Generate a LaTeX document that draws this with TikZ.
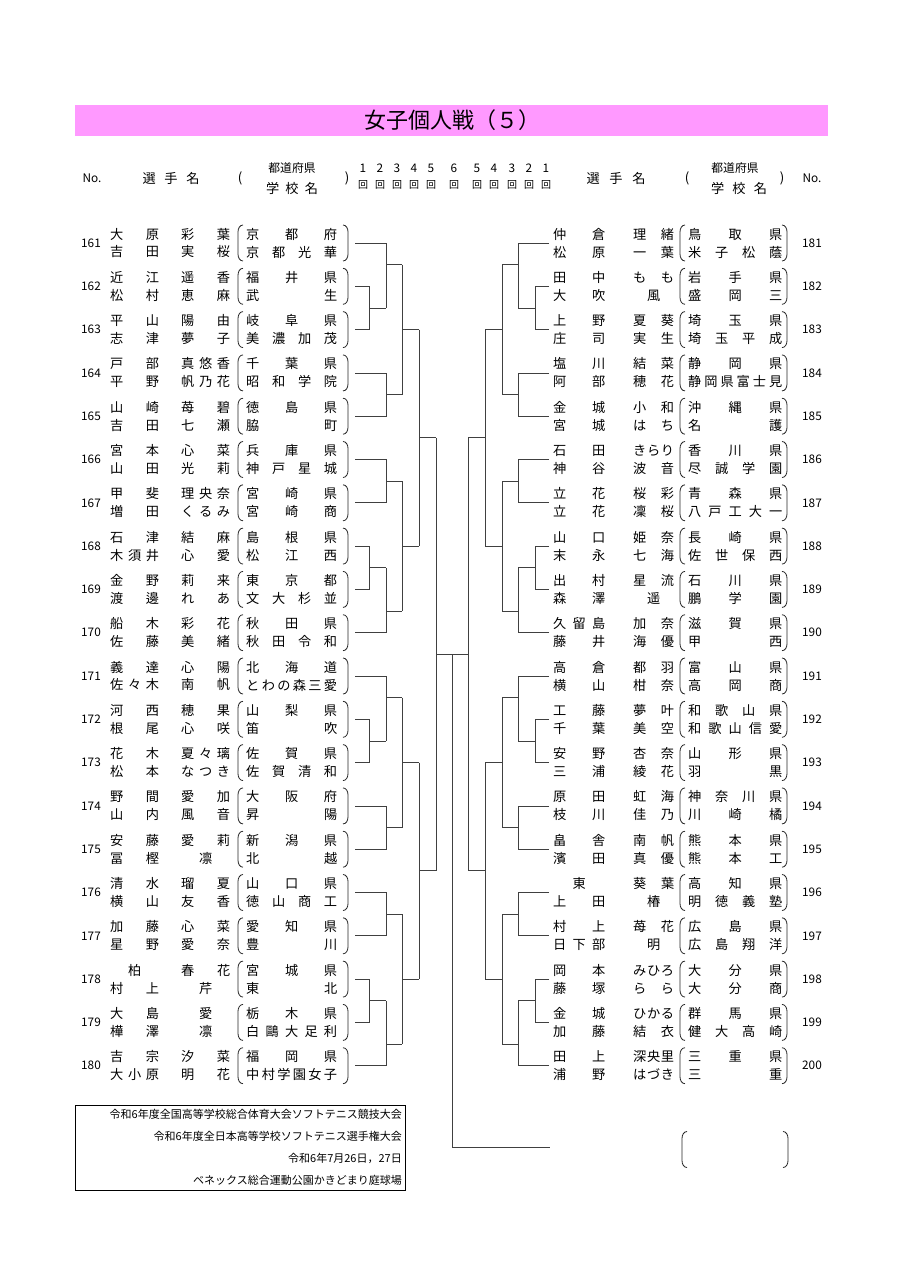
\documentclass[tikz,border=0pt]{standalone}
\usepackage{fontspec}
\setmainfont{Noto Sans CJK JP}
\usetikzlibrary{positioning}
% spread the characters of a text over a fixed width
\def\spreadA#1{\ifx#1\relax\else#1\expandafter\spreadB\fi}
\def\spreadB#1{\ifx#1\relax\else\hfil#1\expandafter\spreadB\fi}
\newcommand\spr[2]{\hbox to #1{\expandafter\spreadA#2\relax}}
\def\Y#1{{243+43.3*(#1)}}
\tikzset{
  % Specifications for style of nodes:
  txt/.style = {inner sep=0pt, font=\fontsize{13.2}{15}\selectfont},
  small/.style = {inner sep=0pt, font=\fontsize{11.8}{13}\selectfont},
  bline/.style = {draw=black!75, line width=0.8pt},
  paren/.style = {draw=black!85, line width=0.8pt},
}
\newcommand\lpar[2]{\draw[paren] (#1+5,#2-18) to[out=180,in=90] (#1,#2-11) -- (#1,#2+11) to[out=-90,in=180] (#1+5,#2+18);}
\newcommand\rpar[2]{\draw[paren] (#1-5,#2-18) to[out=0,in=90] (#1,#2-11) -- (#1,#2+11) to[out=-90,in=0] (#1-5,#2+18);}
\newcommand\halfbracket{%
  \foreach \b in {0,10}{
    \draw[bline] (-97,\Y{\b}) -- (-66,\Y{\b});
    \draw[bline] (-97,\Y{\b+1}) -| (-83,\Y{\b+2}) -- (-97,\Y{\b+2});
    \draw[bline] (-83,\Y{\b+1.5}) -- (-66,\Y{\b+1.5});
    \draw[bline] (-66,\Y{\b}) -- (-66,\Y{\b+1.5});
    \draw[bline] (-66,\Y{\b+.5}) -- (-50,\Y{\b+.5});
    \draw[bline] (-97,\Y{\b+3}) -| (-66,\Y{\b+4}) -- (-97,\Y{\b+4});
    \draw[bline] (-66,\Y{\b+3.5}) -- (-50,\Y{\b+3.5});
    \draw[bline] (-50,\Y{\b+.5}) -- (-50,\Y{\b+3.5});
    \draw[bline] (-50,\Y{\b+2}) -- (-33,\Y{\b+2});
    \draw[bline] (-97,\Y{\b+5}) -| (-66,\Y{\b+6}) -- (-97,\Y{\b+6});
    \draw[bline] (-66,\Y{\b+5.5}) -- (-50,\Y{\b+5.5});
    \draw[bline] (-97,\Y{\b+7}) -| (-83,\Y{\b+8}) -- (-97,\Y{\b+8});
    \draw[bline] (-83,\Y{\b+7.5}) -- (-66,\Y{\b+7.5});
    \draw[bline] (-97,\Y{\b+9}) -- (-66,\Y{\b+9}) -- (-66,\Y{\b+7.5});
    \draw[bline] (-66,\Y{\b+8.5}) -- (-50,\Y{\b+8.5});
    \draw[bline] (-50,\Y{\b+5.5}) -- (-50,\Y{\b+8.5});
    \draw[bline] (-50,\Y{\b+7}) -- (-33,\Y{\b+7});
    \draw[bline] (-33,\Y{\b+2}) -- (-33,\Y{\b+7});
    \draw[bline] (-33,\Y{\b+4.5}) -- (-16,\Y{\b+4.5});
  }
  \draw[bline] (-16,\Y{4.5}) -- (-16,\Y{14.5});
  \draw[bline] (-16,\Y{9.5}) -- (0,\Y{9.5});
}

\begin{document}
\begin{tikzpicture}[x=1pt,y=-1pt]
  \useasboundingbox[fill=white] (0,0) rectangle (905,1280);
  % Title bar
  \fill[fill={rgb,255:red,255;green,153;blue,255}] (75,105) rectangle (828,136);
  \node[inner sep=0pt, font=\fontsize{22}{24}\selectfont] (title) at (452,120) {女子個人戦（５）};
  % Header
  \node[small] (noL) at (92,178) {No.};
  \node[txt] (nameL) at (171,178) {\spr{57pt}{選手名}};
  \node[txt] (lpL) at (240,178) {(};
  \node[small] (prefL) at (292,168) {都道府県};
  \node[txt] (schL) at (292,188) {\spr{52pt}{学校名}};
  \node[txt] (rpL) at (347,178) {)};
  \foreach \x/\n [count=\k] in {363/1,380/2,397/3,414/4,431/5,454/6,477/5,494/4,512/3,529/2,546/1}{
    \node[small] (rd\k) at (\x,168) {\n};
    \node[inner sep=0pt, font=\fontsize{10}{11}\selectfont] (kai\k) at (\x,185) {回};
  }
  \node[txt] (nameR) at (616,178) {\spr{59pt}{選手名}};
  \node[txt] (lpR) at (687,178) {(};
  \node[small] (prefR) at (735,168) {都道府県};
  \node[txt] (schR) at (739,188) {\spr{56pt}{学校名}};
  \node[txt] (rpR) at (782,178) {)};
  \node[small] (noR) at (812,178) {No.};
  % Left players
  \foreach \no/\fa/\ga/\fb/\gb/\pr/\sc in {
    161/大原/彩葉/吉田/実桜/京都府/京都光華,
    162/近江/遥香/松村/恵麻/福井県/武生,
    163/平山/陽由/志津/夢子/岐阜県/美濃加茂,
    164/戸部/真悠香/平野/帆乃花/千葉県/昭和学院,
    165/山崎/苺碧/吉田/七瀬/徳島県/脇町,
    166/宮本/心菜/山田/光莉/兵庫県/神戸星城,
    167/甲斐/理央奈/増田/くるみ/宮崎県/宮崎商,
    168/石津/結麻/木須井/心愛/島根県/松江西,
    169/金野/莉来/渡邊/れあ/東京都/文大杉並,
    170/船木/彩花/佐藤/美緒/秋田県/秋田令和,
    171/義達/心陽/佐々木/南帆/北海道/とわの森三愛,
    172/河西/穂果/根尾/心咲/山梨県/笛吹,
    173/花木/夏々璃/松本/なつき/佐賀県/佐賀清和,
    174/野間/愛加/山内/風音/大阪府/昇陽,
    175/安藤/愛莉/冨樫/\hfil 凛\hfil/新潟県/北越,
    176/清水/瑠夏/横山/友香/山口県/徳山商工,
    177/加藤/心菜/星野/愛奈/愛知県/豊川,
    178/\hfil 柏\hfil/春花/村上/\hfil 芹\hfil/宮城県/東北,
    179/大島/\hfil 愛\hfil/樺澤/\hfil 凛\hfil/栃木県/白鷗大足利,
    180/吉宗/汐菜/大小原/明花/福岡県/中村学園女子}{
    \pgfmathsetmacro\yy{243+43.3*(\no-161)}
    \node[small] (n\no) at (91,\yy) {\no};
    \node[txt, anchor=west] (pa\no) at (110,\yy-9) {\spr{49pt}{\fa}\hskip22pt\spr{49pt}{\ga}};
    \node[txt, anchor=west] (pb\no) at (110,\yy+9) {\spr{49pt}{\fb}\hskip22pt\spr{49pt}{\gb}};
    \node[txt, anchor=west] (pr\no) at (246,\yy-9) {\spr{91pt}{\pr}};
    \node[txt, anchor=west] (sc\no) at (246,\yy+9) {\spr{91pt}{\sc}};
    \lpar{238}{\yy}
    \rpar{348}{\yy}
  }
  % Right players
  \foreach \no/\fa/\ga/\fb/\gb/\pr/\sc in {
    181/仲倉/理緒/松原/一葉/鳥取県/米子松蔭,
    182/田中/もも/大吹/\hfil 風\hfil/岩手県/盛岡三,
    183/上野/夏葵/庄司/実生/埼玉県/埼玉平成,
    184/塩川/結菜/阿部/穂花/静岡県/静岡県富士見,
    185/金城/小和/宮城/はち/沖縄県/名護,
    186/石田/きらり/神谷/波音/香川県/尽誠学園,
    187/立花/桜彩/立花/凜桜/青森県/八戸工大一,
    188/山口/姫奈/末永/七海/長崎県/佐世保西,
    189/出村/星流/森澤/\hfil 遥\hfil/石川県/鵬学園,
    190/久留島/加奈/藤井/海優/滋賀県/甲西,
    191/高倉/都羽/横山/柑奈/富山県/高岡商,
    192/工藤/夢叶/千葉/美空/和歌山県/和歌山信愛,
    193/安野/杏奈/三浦/綾花/山形県/羽黒,
    194/原田/虹海/枝川/佳乃/神奈川県/川崎橘,
    195/畠舎/南帆/濱田/真優/熊本県/熊本工,
    196/\hfil 東\hfil/葵葉/上田/\hfil 椿\hfil/高知県/明徳義塾,
    197/村上/苺花/日下部/\hfil 明\hfil/広島県/広島翔洋,
    198/岡本/みひろ/藤塚/らら/大分県/大分商,
    199/金城/ひかる/加藤/結衣/群馬県/健大高崎,
    200/田上/深央里/浦野/はづき/三重県/三重}{
    \pgfmathsetmacro\yy{243+43.3*(\no-181)}
    \node[small] (n\no) at (812,\yy) {\no};
    \node[txt, anchor=west] (pa\no) at (553,\yy-9) {\spr{52pt}{\fa}\hskip28pt\spr{41pt}{\ga}};
    \node[txt, anchor=west] (pb\no) at (553,\yy+9) {\spr{52pt}{\fb}\hskip28pt\spr{41pt}{\gb}};
    \node[txt, anchor=west] (pr\no) at (688,\yy-9) {\spr{94pt}{\pr}};
    \node[txt, anchor=west] (sc\no) at (688,\yy+9) {\spr{94pt}{\sc}};
    \lpar{680}{\yy}
    \rpar{787}{\yy}
  }
  % Bracket
  \begin{scope}[shift={(452,0)}]
    \halfbracket
  \end{scope}
  \begin{scope}[shift={(452,0)}, xscale=-1]
    \halfbracket
  \end{scope}
  \coordinate (final) at (550,1147);
  \draw[bline] (452,\Y{9.5}) |- (final);
  \lpar{682}{1149.5}
  \rpar{788}{1149.5}
  % Footer
  \draw[line width=0.8pt] (75,1105) rectangle (405,1190);
  \foreach \t [count=\k] in {令和6年度全国高等学校総合体育大会ソフトテニス競技大会,
      令和6年度全日本高等学校ソフトテニス選手権大会,
      令和6年7月26日，27日,
      ベネックス総合運動公園かきどまり庭球場}{
    \node[inner sep=0pt, font=\fontsize{11}{12}\selectfont, anchor=east] (foot\k) at (402,{1092+22*\k}) {\t};
  }
\end{tikzpicture}
\end{document}
